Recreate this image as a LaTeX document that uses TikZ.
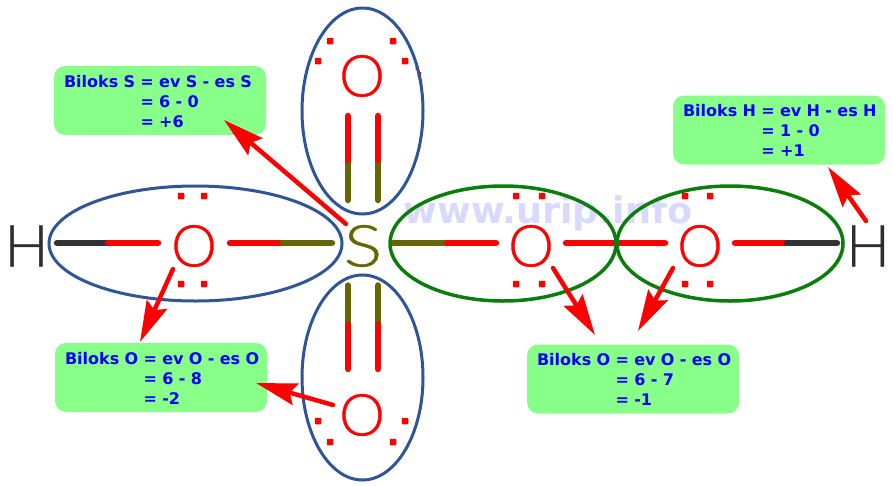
\documentclass[tikz,border=0pt]{standalone}
\usepackage{fontspec}
\setmainfont{DejaVu Sans}
\newfontfamily\atomfont[FakeBold=0.6]{Lato Light}
\newfontfamily\sulfont[FakeBold=0.6,FakeStretch=1.25]{Lato Light}
\usetikzlibrary{arrows.meta,shapes.geometric}
\definecolor{oliveb}{HTML}{666600}
\definecolor{darkb}{HTML}{333333}
\definecolor{elblue}{HTML}{2F5597}
\definecolor{elgreen}{HTML}{0A7D0A}
\definecolor{boxg}{HTML}{88FF88}
\definecolor{wm}{HTML}{D9D9FF}
\tikzset{
  x=1pt,y=-1pt,
  bond/.style={line width=6.5pt,line cap=round},
  lonedot/.style={fill=red,draw=none,minimum size=6.5pt,inner sep=0pt,rectangle,rounded corners=0.8pt},
  atom/.style={inner sep=0pt,font=\fontsize{58}{58}\atomfont},
  orb/.style={draw,ellipse,inner sep=0pt,line width=3pt},
  infobox/.style={fill=boxg,rounded corners=11pt,minimum height=69pt,inner ysep=0pt,inner xsep=10pt,text width=192pt,align=left,text=blue,font=\fontsize{16}{20}\selectfont\bfseries},
  callout/.style={red,line width=4.5pt,line cap=round,-{Stealth[length=41pt,width=22pt,inset=6pt]}},
}
\newcommand{\calc}[2]{\raisebox{0pt}[40pt][26pt]{\begin{tabular}[c]{@{}l@{ }l@{}}#1 & = #2\end{tabular}}}
\begin{document}
\begin{tikzpicture}
\useasboundingbox (0,0) rectangle (893,485);
\fill[white] (0,0) rectangle (893,485);
\node[text=wm,font=\fontsize{36.5}{37}\selectfont\bfseries,inner sep=0pt] (mark) at (548,213) {www.urip.info};

% atoms
\node[atom,text=darkb!90!black] (H1) at (26.5,246) {H};
\node[atom,text=red] (O1) at (194,246) {O};
\node[atom,text=oliveb,font=\fontsize{58}{58}\sulfont] (S) at (363,246) {S};
\node[atom,text=red] (O2) at (531,246) {O};
\node[atom,text=red] (O3) at (700,246) {O};
\node[atom,text=darkb!90!black] (H2) at (868,246) {H};
\node[atom,text=red] (O4) at (362,76) {O};
\node[atom,text=red] (O5) at (362,415) {O};

% bond end points
\foreach \n/\x/\y in {a/57/243,b/108/243,c/158/243,d/230/243,e/283/243,f/332/243,
  g/393/243,h/447/243,i/496/243,j/566/243,k/665/243,l/735/243,m/787/243,n/837/243,
  p/348/116,q/348/160,r/348/200,s/378/116,t/378/160,u/378/200,
  v/348/285.5,w/348/325,y/348/369,z/378/285.5,aa/378/325,ab/378/369}{
  \coordinate (\n) at (\x,\y);}
\draw[bond,darkb] (a) -- (b);
\draw[bond,red] (b) -- (c);
\draw[bond,red] (d) -- (e);
\draw[bond,oliveb] (e) -- (f);
\draw[bond,oliveb] (g) -- (h);
\draw[bond,red] (h) -- (i);
\draw[bond,red] (j) -- (k);
\draw[bond,red] (l) -- (m);
\draw[bond,darkb] (m) -- (n);
\draw[bond,oliveb] (q) -- (r);
\draw[bond,red] (p) -- (q);
\draw[bond,oliveb] (t) -- (u);
\draw[bond,red] (s) -- (t);
\draw[bond,oliveb] (v) -- (w);
\draw[bond,red] (w) -- (y);
\draw[bond,oliveb] (z) -- (aa);
\draw[bond,red] (aa) -- (ab);

% lone pairs
\foreach \i/\x/\y in {1/181/196,2/204/196,3/181/284,4/204/284,5/516/196,6/542/196,7/516/284,8/542/284,
  9/685/196,10/710/196,11/685/284,12/710/284,13/330/41,14/393/41,15/318/61,16/405/61,
  17/318/421,18/405/421,19/330/442,20/393/442}{
  \node[lonedot] (d\i) at (\x,\y) {};}
\fill[red] (415.5,66) rectangle (418.5,70) (417.5,72) rectangle (421,77) (420,79) rectangle (422,84);

% electron-pair ellipses
\node[orb,elblue,minimum width=293pt,minimum height=115pt] (eL) at (195.5,243.5) {};
\node[orb,elblue,minimum width=121pt,minimum height=206pt] (eT) at (362.5,111) {};
\node[orb,elblue,minimum width=121pt,minimum height=205pt] (eB) at (362.5,377.5) {};
\node[orb,elgreen,line width=3.5pt,minimum width=226pt,minimum height=115pt] (eG1) at (503,243.5) {};
\node[orb,elgreen,line width=3.5pt,minimum width=226pt,minimum height=115pt] (eG2) at (730,243.5) {};

% boxes
\node[infobox] (bS) at (160,100.5) {\calc{Biloks S}{ev S - es S\\ & = 6 - 0\\ & = +6}};
\node[infobox] (bOa) at (161,377.5) {\calc{Biloks O}{ev O - es O\\ & = 6 - 8\\ & = -2}};
\node[infobox] (bOb) at (633,379) {\calc{Biloks O}{ev O - es O\\ & = 6 - 7\\ & = -1}};
\node[infobox] (bH) at (779,130) {\calc{Biloks H}{ev H - es H\\ & = 1 - 0\\ & = +1}};

% callouts
\coordinate (c1s) at (346,224); \coordinate (c1e) at (224,120);
\coordinate (c2s) at (173,269); \coordinate (c2e) at (140,342);
\coordinate (c3s) at (333,405); \coordinate (c3e) at (256,383);
\coordinate (c4s) at (553,268); \coordinate (c4e) at (595,335);
\coordinate (c5s) at (673,268); \coordinate (c5e) at (638,331);
\coordinate (c6s) at (866,221); \coordinate (c6e) at (828,167);
\draw[callout] (c1s) -- (c1e);
\draw[callout] (c2s) -- (c2e);
\draw[callout] (c3s) -- (c3e);
\draw[callout] (c4s) -- (c4e);
\draw[callout] (c5s) -- (c5e);
\draw[callout] (c6s) -- (c6e);
\end{tikzpicture}
\end{document}
